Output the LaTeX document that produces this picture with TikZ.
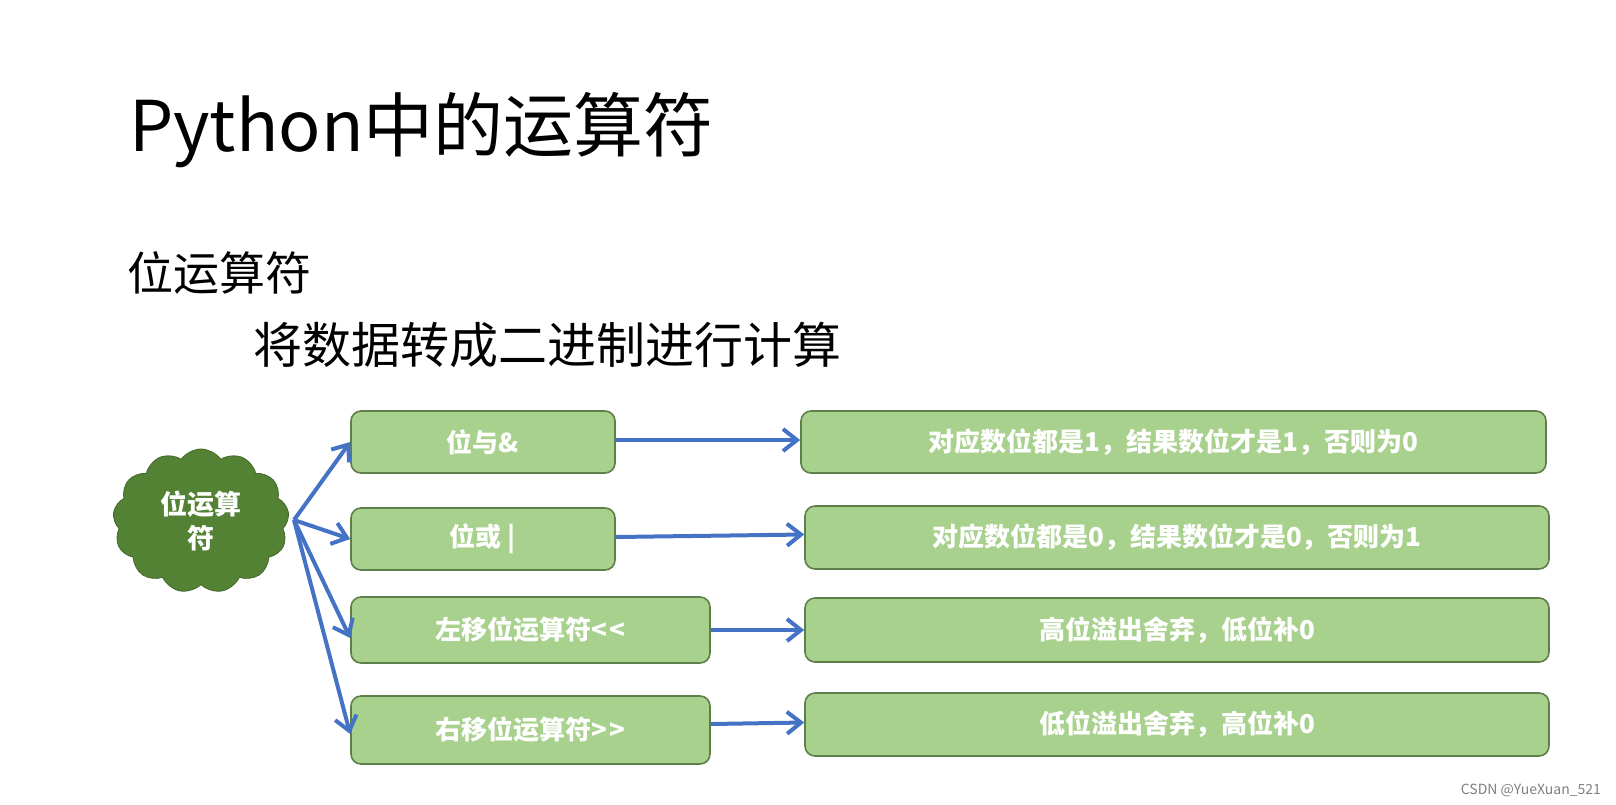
\documentclass[tikz,border=0pt]{standalone}
\usepackage{fontspec}
\setmainfont{Noto Sans CJK SC}[Ligatures=NoCommon]
\usetikzlibrary{shapes.symbols,arrows.meta}
\definecolor{lg}{HTML}{A9D18E}
\definecolor{lb}{HTML}{5E7F4A}
\definecolor{dg}{HTML}{548235}
\definecolor{ab}{HTML}{4472C4}
\tikzset{
 opbox/.style={draw=lb,line width=0.8pt,fill=lg,rounded corners=5pt,inner sep=0pt,text=white,font=\bfseries\fontsize{13}{15}\selectfont},
 arr/.style={draw=ab,line width=2pt,-{Straight Barb[length=7pt,width=11pt,line width=2pt]}}
}
\begin{document}
\begin{tikzpicture}[x=0.5pt,y=-0.5pt]
\node[anchor=west,font=\fontsize{35}{40}\selectfont] (t) at (122,130) {Python中的运算符};
\node[anchor=west,font=\fontsize{23}{27}\selectfont] (s) at (120,273) {位运算符};
\node[anchor=west,font=\fontsize{24.5}{28}\selectfont] (d) at (246,345) {将数据转成二进制进行计算};
\node[cloud,cloud puffs=13,cloud puff arc=110,aspect=1.2,fill=dg,draw=dg!80!black,minimum width=88pt,minimum height=72pt,inner sep=0pt,align=center,text=white,font=\bfseries\fontsize{13.5}{17}\selectfont] (c) at (201,521) {位运算\\符};
\foreach \n/\xa/\ya/\xb/\yb/\t in {a1/351/411/615/473/{位与\&},a2/351/508/615/570/{位或 |},a3/351/597/710/663/{左移位运算符\mbox{<}\kern1.5pt\mbox{<}},a4/351/696/710/764/{右移位运算符\mbox{>}\kern1.5pt\mbox{>}}}
  \node[opbox,minimum width={(\xb-\xa)*0.5pt},minimum height={(\yb-\ya)*0.5pt}] (\n) at ({(\xa+\xb)/2},{(\ya+\yb)/2}) {\t};
\foreach \n/\xa/\ya/\xb/\yb/\t in {b1/801/411/1546/473/{对应数位都是1，结果数位才是1，否则为0},b2/805/506/1549/569/{对应数位都是0，结果数位才是0，否则为1},b3/805/598/1549/662/{高位溢出舍弃，低位补0},b4/805/693/1549/756/{低位溢出舍弃，高位补0}}
  \node[opbox,minimum width={(\xb-\xa)*0.5pt},minimum height={(\yb-\ya)*0.5pt}] (\n) at ({(\xa+\xb)/2},{(\ya+\yb)/2}) {\t};
\coordinate (o) at (294,520);
\draw[arr] (o) -- (a1.west);
\draw[arr] (o) -- (a2.west);
\draw[arr] (o) -- ([yshift=-4pt]a3.west);
\draw[arr] (o) -- ([yshift=-2pt]a4.west);
\draw[arr] ([yshift=1pt]a1.east) -- ([yshift=1pt]b1.west);
\draw[arr] ([yshift=1pt]a2.east) -- ([yshift=1.5pt]b2.west);
\draw[arr] (a3.east) -- (b3.west);
\draw[arr] ([yshift=3pt]a4.east) -- ([yshift=1pt]b4.west);
\node[anchor=east,text=gray,font=\fontsize{7}{8}\selectfont] (w) at (1608,790) {CSDN @YueXuan\_521};
\pgfresetboundingbox
\useasboundingbox (0,0) rectangle (1616,804);
\end{tikzpicture}
\end{document}
